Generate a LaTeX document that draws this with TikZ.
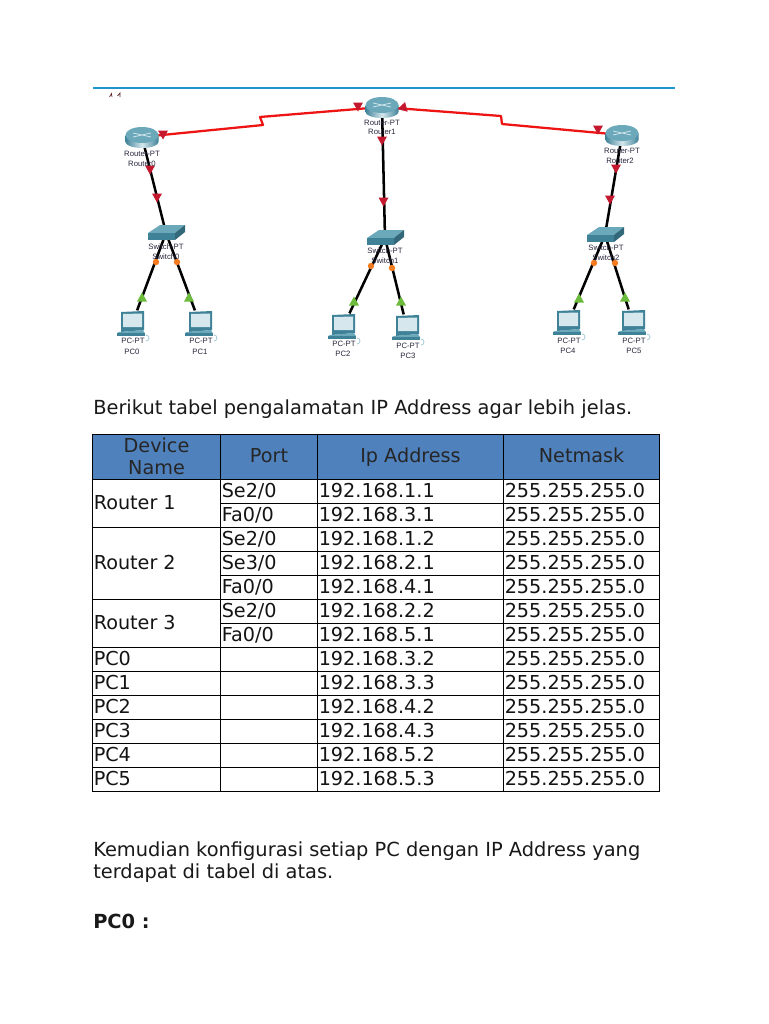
\documentclass[tikz,border=0pt]{standalone}
\usepackage{fontspec}
\setmainfont{DejaVu Sans}
\newfontfamily\iconfont{Liberation Sans}
\definecolor{headblue}{HTML}{4F81BD}
\definecolor{rulecol}{HTML}{1E94CC}
\definecolor{redtri}{HTML}{C4182F}
\definecolor{redline}{HTML}{EE1414}
\definecolor{orangedot}{HTML}{F47B20}
\definecolor{greentri}{HTML}{6CBB3C}
\definecolor{tealD}{HTML}{3F8298}
\definecolor{tealM}{HTML}{6AA8BA}
\definecolor{tealL}{HTML}{D6E7EE}
\definecolor{labelcol}{HTML}{26263C}
\definecolor{markcol}{HTML}{5A2020}
\tikzset{
  x=0.75pt,y=-0.75pt,
  routerbox/.style={rectangle,inner sep=0pt,minimum width=24pt,minimum height=14pt},
  switchbox/.style={rectangle,inner sep=0pt,minimum width=26pt,minimum height=10pt},
  pcbox/.style={rectangle,inner sep=0pt,minimum width=22pt,minimum height=20pt},
  iconlabel/.style={inner sep=0pt,font=\iconfont\fontsize{5.8pt}{6pt}\selectfont,text=labelcol},
  lan/.style={line width=1.9pt,black},
  serial/.style={line width=1.7pt,redline,line join=round},
  grid/.style={line width=0.75pt,black},
  cell/.style={anchor=base west,inner sep=0pt,font=\fontsize{14.4pt}{16pt}\selectfont,text=black!92},
  headcell/.style={anchor=base,inner sep=0pt,font=\fontsize{14.4pt}{16pt}\selectfont,text=black!85},
  bodytext/.style={anchor=base west,inner sep=0pt,font=\fontsize{14.55pt}{16.5pt}\selectfont,text=black!90},
  router/.pic={
    \path[left color=tealD,right color=tealD,middle color=tealL] (-16.5,-2) -- (-16.5,5) arc[start angle=180,end angle=0,x radius=16.5,y radius=6] -- (16.5,-2) -- cycle;
    \fill[tealM] (0,-2) ellipse[x radius=16.5,y radius=8];
    \draw[white!70!tealM,line width=0.6pt] (-9,0) -- (9,-4) (-9,-4) -- (9,0);
  },
  switchicon/.pic={
    \fill[tealM] (-18,0) -- (-6,-8) -- (19,-8) -- (9,0) -- cycle;
    \fill[tealD] (-18,0) rectangle (9,7);
    \fill[tealD!80!black] (9,0) -- (19,-8) -- (19,-1) -- (9,7) -- cycle;
  },
  pcicon/.pic={
    \fill[tealD] (-11,-12) -- (12,-13) -- (12,6) -- (-11,8) -- cycle;
    \fill[tealL] (-9,-10) -- (10,-10.5) -- (10,3) -- (-9,3) -- cycle;
    \fill[tealM] (-13,8) -- (11,6) -- (12,8) -- (13,9) -- (-15,9) -- cycle;
    \fill[tealD] (-15,9) -- (13,9) -- (13,12) -- (-15,12) -- cycle;
    \draw[tealM!70!white,line width=0.5pt] (14,11) arc[start angle=-90,end angle=90,radius=3];
  },
  tridown/.pic={\fill[redtri] (-5,-4.5) -- (5,-4.5) -- (0,4.5) -- cycle;},
  triup/.pic={\fill[greentri] (-5,4.5) -- (5,4.5) -- (0,-4.5) -- cycle;},
  dot/.pic={\fill[orangedot] (0,0) circle[radius=3.2];}
}
\begin{document}
\begin{tikzpicture}
\useasboundingbox (0,0) rectangle (768,1024);
\fill[white] (0,0) rectangle (768,1024);
% top rule
\coordinate (ruleL) at (93,88);
\coordinate (ruleR) at (675,88);
\draw[rulecol,line width=1.1pt] (ruleL) -- (ruleR);
% small marks at the corner of the screenshot
\draw[markcol,line width=0.5pt] (109.5,97) -- (111.5,93.5) -- (112,97);
\draw[markcol,line width=0.5pt] (117.5,96) -- (120,93) -- (120,97);
% anchors
\node[routerbox] (r0) at (142,137) {};
\node[routerbox] (r1) at (382,107) {};
\node[routerbox] (r2) at (622,135) {};
\node[switchbox] (s0) at (166,233) {};
\node[switchbox] (s1) at (385,238) {};
\node[switchbox] (s2) at (605,235) {};
\node[pcbox] (p0) at (132,324) {};
\node[pcbox] (p1) at (200,324) {};
\node[pcbox] (p2) at (343,327) {};
\node[pcbox] (p3) at (407,328) {};
\node[pcbox] (p4) at (568,323) {};
\node[pcbox] (p5) at (633,323) {};
\coordinate (z1) at (263,125);
\coordinate (z2) at (260,117);
\coordinate (z3) at (502,124);
\coordinate (z4) at (501,116);
% links
\draw[serial] (r0) -- (z1) -- (z2) -- (r1);
\draw[serial] (r1) -- (z4) -- (z3) -- (r2);
\draw[lan] (r0) -- (s0);
\draw[lan] (r1) -- (s1);
\draw[lan] (r2) -- (s2);
\draw[lan] (s0) -- (p0);
\draw[lan] (s0) -- (p1);
\draw[lan] (s1) -- (p2);
\draw[lan] (s1) -- (p3);
\draw[lan] (s2) -- (p4);
\draw[lan] (s2) -- (p5);
% icons
\pic at (r0) {router};
\pic at (r1) {router};
\pic at (r2) {router};
\pic at (p0) {pcicon};
\pic at (p1) {pcicon};
\pic at (p2) {pcicon};
\pic at (p3) {pcicon};
\pic at (p4) {pcicon};
\pic at (p5) {pcicon};
\pic at (s0) {switchicon};
\pic at (s1) {switchicon};
\pic at (s2) {switchicon};
% link markers
\pic at (163,135) {tridown};
\pic at (358,107) {tridown};
\pic[rotate=-75] at (402,108) {tridown};
\pic at (598,130) {tridown};
\pic at (150,170) {tridown};
\pic at (157,198) {tridown};
\pic at (382,141) {tridown};
\pic at (383.5,202) {tridown};
\pic at (616,169) {tridown};
\pic at (610,200) {tridown};
\pic at (156,262) {dot};
\pic at (177,262) {dot};
\pic at (371,266) {dot};
\pic at (392,268) {dot};
\pic at (594,263) {dot};
\pic at (615,263) {dot};
\pic at (142,297) {triup};
\pic at (189,297) {triup};
\pic at (354,301) {triup};
\pic at (401,301) {triup};
\pic at (579,298) {triup};
\pic at (625,297) {triup};
% icon labels
\node[iconlabel] (l1) at (142,154) {Router-PT};
\node[iconlabel] (l2) at (142,164) {Router0};
\node[iconlabel] (l3) at (382,123) {Router-PT};
\node[iconlabel] (l4) at (382,132) {Router1};
\node[iconlabel] (l5) at (622,151) {Router-PT};
\node[iconlabel] (l6) at (620,161) {Router2};
\node[iconlabel] (l7) at (166,247) {Switch-PT};
\node[iconlabel] (l8) at (166,257) {Switch0};
\node[iconlabel] (l9) at (385,251) {Switch-PT};
\node[iconlabel] (l10) at (385,261) {Switch1};
\node[iconlabel] (l11) at (606,248) {Switch-PT};
\node[iconlabel] (l12) at (606,258) {Switch2};
\node[iconlabel] (l13) at (133,341) {PC-PT};
\node[iconlabel] (l14) at (132,352) {PC0};
\node[iconlabel] (l15) at (201,341) {PC-PT};
\node[iconlabel] (l16) at (200,352) {PC1};
\node[iconlabel] (l17) at (344,344) {PC-PT};
\node[iconlabel] (l18) at (343,354) {PC2};
\node[iconlabel] (l19) at (408,346) {PC-PT};
\node[iconlabel] (l20) at (408,356) {PC3};
\node[iconlabel] (l21) at (569,341) {PC-PT};
\node[iconlabel] (l22) at (568,351) {PC4};
\node[iconlabel] (l23) at (634,341) {PC-PT};
\node[iconlabel] (l24) at (634,351) {PC5};
% text
\node[bodytext] (t1) at (93,414.2) {Berikut tabel pengalamatan IP Address agar lebih jelas.};
\node[bodytext] (t2) at (93,856.2) {Kemudian konfigurasi setiap PC dengan IP Address yang};
\node[bodytext] (t3) at (93,878.2) {terdapat di tabel di atas.};
\node[bodytext,font=\bfseries\fontsize{14.55pt}{16.5pt}\selectfont] (t4) at (93,928.2) {PC0 :};
% table
\fill[headblue] (92.5,434.5) rectangle (659.5,479);
\draw[grid] (92.5,434.5) rectangle (659.5,791.5);
\draw[grid] (92.5,479) -- (659.5,479);
\draw[grid] (92.5,527) -- (659.5,527);
\draw[grid] (92.5,599) -- (659.5,599);
\foreach \y in {647,671,695,719,743,767} \draw[grid] (92.5,\y) -- (659.5,\y);
\foreach \y in {503,551,575,623} \draw[grid] (220.5,\y) -- (659.5,\y);
\foreach \x in {220.5,317.5,503.5} \draw[grid] (\x,434.5) -- (\x,791.5);
\node[headcell] (h1a) at (156.5,452.5) {Device};
\node[headcell] (h1b) at (156.5,474) {Name};
\node[headcell] (h2) at (269,462.5) {Port};
\node[headcell] (h3) at (410.5,462.5) {Ip Address};
\node[headcell] (h4) at (581.5,462.5) {Netmask};
\node[cell] (d1) at (93.5,509.7) {Router 1};
\node[cell] (d2) at (93.5,569.7) {Router 2};
\node[cell] (d3) at (93.5,629.7) {Router 3};
\foreach \n/\y/\d in {a/665.7/PC0,b/689.7/PC1,c/713.7/PC2,d/737.7/PC3,e/761.7/PC4,f/785.7/PC5}
  \node[cell] (dev\n) at (93.5,\y) {\d};
\foreach \n/\y/\p in {a/497.7/Se2\slash 0,b/521.7/Fa0\slash 0,c/545.7/Se2\slash 0,d/569.7/Se3\slash 0,e/593.7/Fa0\slash 0,f/617.7/Se2\slash 0,g/641.7/Fa0\slash 0}
  \node[cell] (port\n) at (221.5,\y) {\p};
\foreach \n/\y/\a in {a/497.7/192.168.1.1,b/521.7/192.168.3.1,c/545.7/192.168.1.2,d/569.7/192.168.2.1,e/593.7/192.168.4.1,f/617.7/192.168.2.2,g/641.7/192.168.5.1,h/665.7/192.168.3.2,i/689.7/192.168.3.3,j/713.7/192.168.4.2,k/737.7/192.168.4.3,l/761.7/192.168.5.2,m/785.7/192.168.5.3}{
  \node[cell] (ip\n) at (318.5,\y) {\a};
  \node[cell] (mask\n) at (504.5,\y) {255.255.255.0};
}
\end{tikzpicture}
\end{document}
